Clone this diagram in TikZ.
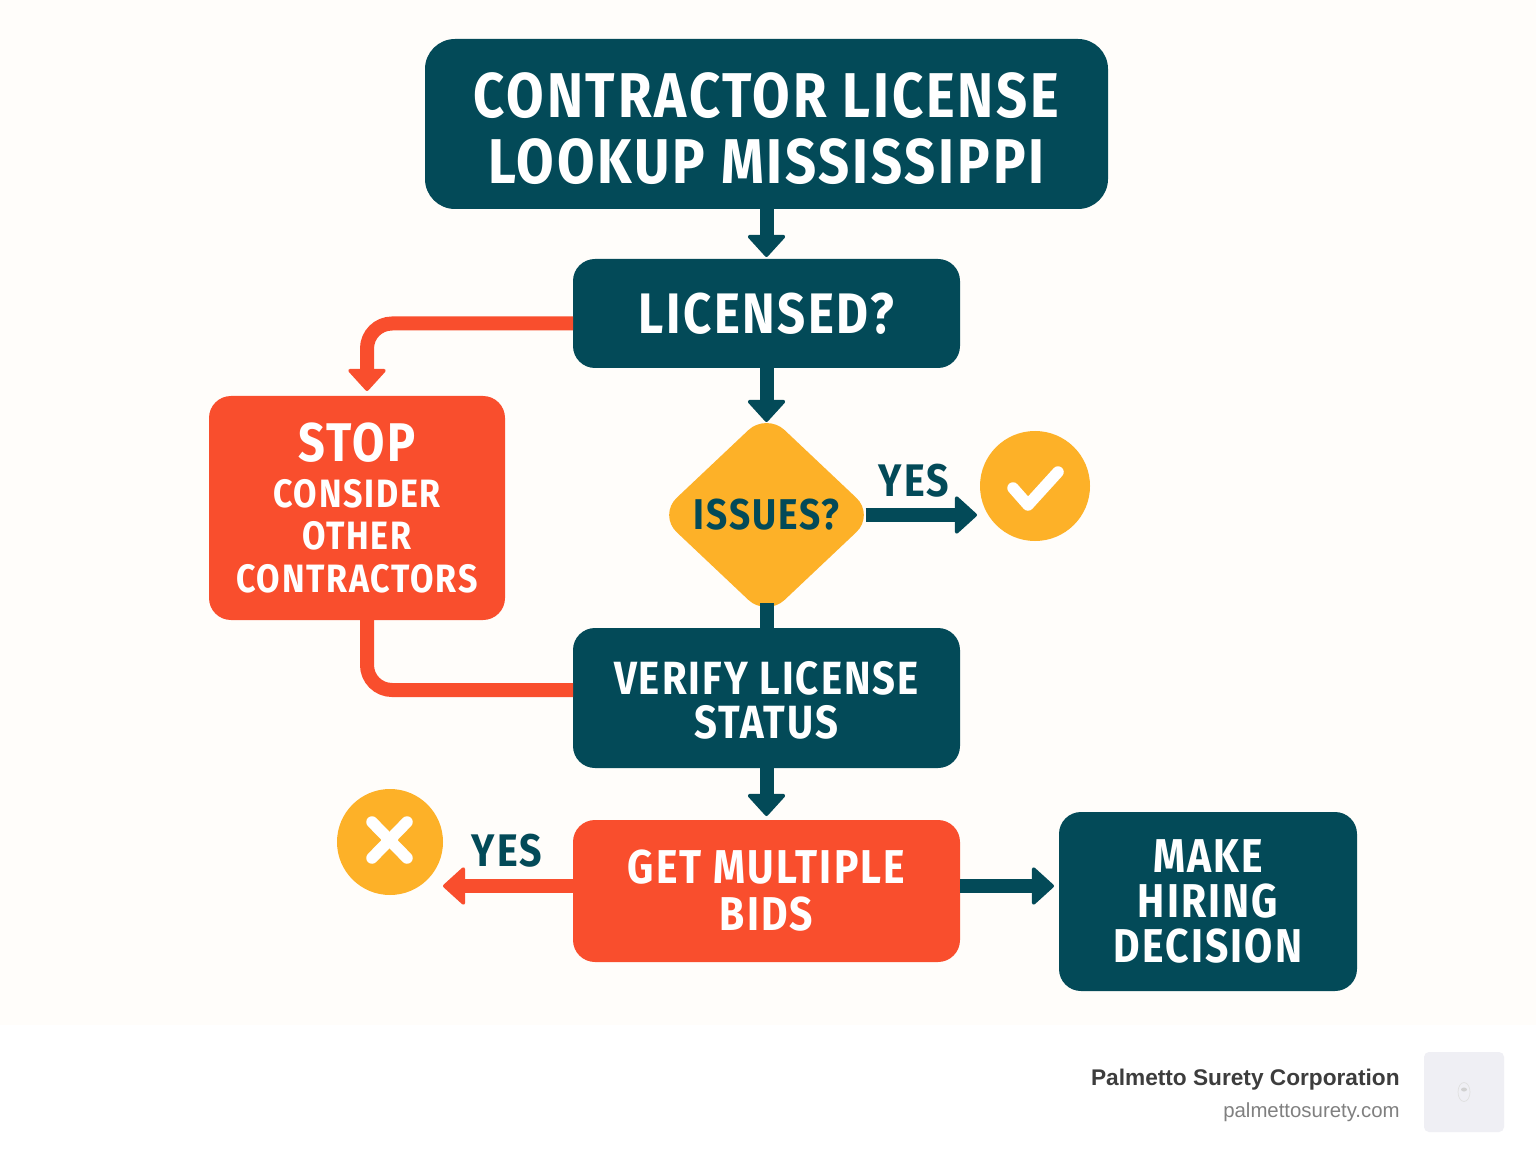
\documentclass[tikz,border=0pt]{standalone}
\usepackage{fontspec}
\usepackage{tikz}
\usetikzlibrary{arrows.meta,shapes.geometric}
\newfontfamily\headfont[FakeStretch=0.86,LetterSpace=4.5]{Fira Sans}
\newfontfamily\footfont{Liberation Sans}
\definecolor{tealbox}{HTML}{034A58}
\definecolor{redbox}{HTML}{F94E2D}
\definecolor{yellowbox}{HTML}{FDB128}
\definecolor{paper}{HTML}{FFFDFA}
\definecolor{iconbox}{HTML}{EFEFF4}
\begin{document}
\begin{tikzpicture}
	[box/.style ={rectangle, fill=tealbox, text=white, rounded corners=.44cm, align=center, inner sep=0pt, outer sep=0pt, font=\headfont\bfseries},
	redbox/.style ={box, fill=redbox},
	sign/.style ={circle, fill=yellowbox, inner sep=0pt, outer sep=0pt},
	yes/.style ={text=tealbox, font=\headfont\bfseries\fontsize{26}{26}\selectfont},
	line/.style ={draw=tealbox, line width=.28cm},
	redline/.style ={draw=redbox, line width=.28cm, rounded corners=.5cm},
	arrow/.style ={line, -{Triangle[width=.82cm,length=.46cm,line width=2pt,round]}},
	redarrow/.style ={redline, -{Triangle[width=.82cm,length=.46cm,line width=2pt,round]}},
	tick/.style ={draw=white, line width=.23cm, line cap=round, line join=round}]
	\useasboundingbox (0, 0) rectangle (30.72, 23.08);
	\fill[white] (0, 0) rectangle (30.72, 23.08);
	\fill[paper] (0, 2.58) rectangle (30.72, 23.08);
	\draw (15.33, 20.6) node[box, rounded corners=.6cm, minimum width=13.66cm, minimum height=3.4cm, font=\headfont\bfseries\fontsize{36}{37.5}\selectfont] (title) {\rule{0pt}{31pt}CONTRACTOR LICENSE\\LOOKUP MISSISSIPPI};
	\draw (15.33, 16.81) node[box, minimum width=7.74cm, minimum height=2.18cm, font=\headfont\bfseries\fontsize{32.5}{34}\selectfont] (licensed) {LICENSED?};
	\draw (7.14, 12.92) node[redbox, minimum width=5.92cm, minimum height=4.48cm, font=\headfont\bfseries\fontsize{22.5}{24}\selectfont] (stop) {{\fontsize{31}{34}\selectfont STOP}\\[2pt]CONSIDER\\OTHER\\CONTRACTORS};
	\draw (15.33, 12.78) node[diamond, fill=yellowbox, text=tealbox, rounded corners=.5cm, minimum width=4.32cm, minimum height=4.08cm, inner sep=0pt, outer sep=0pt, font=\headfont\bfseries\fontsize{24.5}{27}\selectfont] (issues) {ISSUES?};
	\draw (15.33, 9.12) node[box, minimum width=7.74cm, minimum height=2.8cm, font=\headfont\bfseries\fontsize{26.5}{25}\selectfont] (verify) {\rule{0pt}{22pt}VERIFY LICENSE\\STATUS};
	\draw (15.33, 5.26) node[redbox, minimum width=7.74cm, minimum height=2.84cm, font=\headfont\bfseries\fontsize{27}{26.7}\selectfont] (bids) {GET MULTIPLE\\BIDS};
	\draw (24.16, 5.05) node[box, minimum width=5.96cm, minimum height=3.58cm, font=\headfont\bfseries\fontsize{27}{25.6}\selectfont] (decision) {MAKE\\HIRING\\DECISION};
	\draw (20.7, 13.36) node[sign, minimum size=2.2cm] (ok) {};
	\draw (7.8, 6.24) node[sign, minimum size=2.12cm] (bad) {};
	\draw (18.28, 13.46) node[yes] (yes1) {YES};
	\draw (10.14, 6.06) node[yes] (yes2) {YES};
	\draw[arrow, shorten >=.04cm] (title) -- (licensed);
	\draw[arrow, shorten >=-.18cm] (licensed) -- (issues.north);
	\draw[line, shorten <=-.28cm] (issues.south) -- (verify.north);
	\draw[arrow, shorten >=.08cm] (verify) -- (bids);
	\draw[arrow, shorten <=-.18cm, shorten >=.06cm] (issues.east) -- (ok.west |- issues.east);
	\draw[arrow, shorten >=.1cm] (bids.east |- 0, 5.36) -- (decision.west |- 0, 5.36);
	\draw[redarrow, shorten >=.1cm] ([yshift=-.2cm]licensed.west) -| ([xshift=.2cm]stop.north);
	\draw[redline] ([yshift=.16cm]verify.west) -| ([xshift=.2cm]stop.south);
	\draw[redarrow] (bids.west |- 0, 5.36) -- (bad.east |- 0, 5.36);
	\draw[tick] (20.26, 13.32) -- (20.56, 12.98) -- (21.16, 13.64);
	\draw[tick] (7.44, 6.64) -- (8.14, 5.92);
	\draw[tick] (8.14, 6.64) -- (7.44, 5.92);
	\draw (28, 1.48) node[anchor=east, inner sep=0pt, text=black!76, font=\footfont\bfseries\fontsize{12.9}{14}\selectfont] (company) {Palmetto Surety Corporation};
	\draw (28, 0.84) node[anchor=east, inner sep=0pt, text=black!50, font=\footfont\fontsize{11.6}{12}\selectfont] (site) {palmettosurety.com};
	\draw (29.28, 1.24) node[rectangle, fill=iconbox, rounded corners=.1cm, minimum size=1.6cm, inner sep=0pt] (icon) {};
	\draw[black!12, line width=.4pt] (icon.center) ellipse (.12cm and .19cm);
	\fill[black!18] (icon.center) ++(0, .05) ellipse (.06cm and .04cm);
\end{tikzpicture}
\end{document}
